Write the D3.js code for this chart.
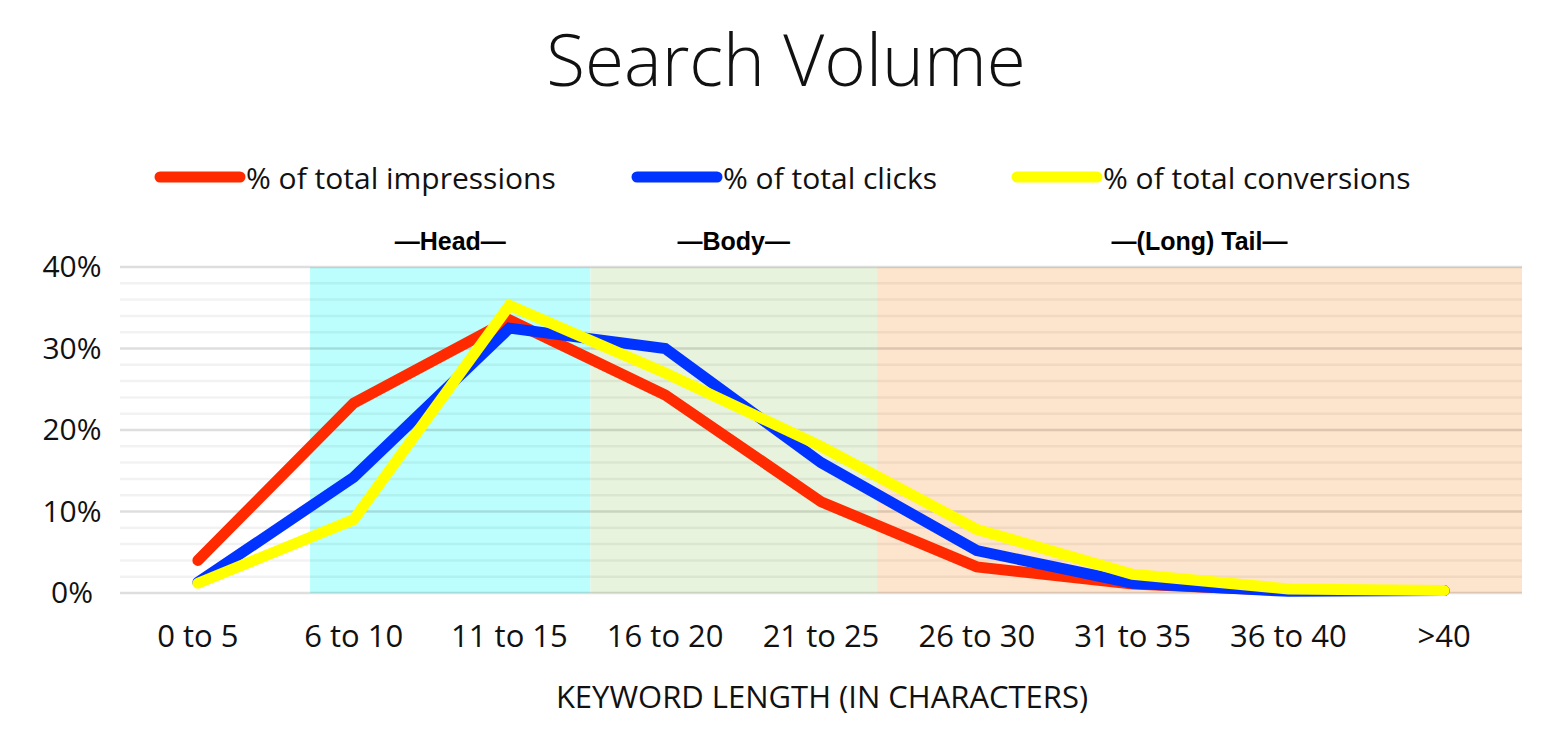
<!DOCTYPE html>
<html><head><meta charset="utf-8">
<script src="https://cdn.jsdelivr.net/npm/d3@7"></script>
<style>body{margin:0;background:#fff}</style></head>
<body><svg id="c" width="1556" height="750"></svg>
<script>
const categories=["0 to 5","6 to 10","11 to 15","16 to 20","21 to 25","26 to 30","31 to 35","36 to 40",">40"];
const impressions=[4.0,23.3,33.5,24.3,11.2,3.2,1.1,0.3,0.3];
const clicks=[1.3,14.2,32.5,30.0,16.0,5.2,1.2,0.2,0.3];
const conversions=[1.2,9.0,35.3,27.0,18.0,7.8,2.3,0.5,0.3];
const seriesNames=["% of total impressions","% of total clicks","% of total conversions"];
const seriesColors=["#ff2a00","#0033ff","#ffff00"];
const zoneNames=["—Head—","—Body—","—(Long) Tail—"];
const zoneStart=[1.22,3.02,4.86];
const zoneEnd=[3.02,4.86,9];
const zoneColors=["#bbfefd","#e7f3dc","#fde4cc"];
const yTicks=[0,10,20,30,40];

const svg=d3.select("#c");
const L=120,R=1522,T=267,B=593;
const x=d3.scaleBand().domain(categories).range([L,R]);
const u=d3.scaleLinear().domain([0,9]).range([L,R]);
const y=d3.scaleLinear().domain([0,40]).range([B,T]);
const font="'Open Sans', sans-serif";

svg.append("text").attr("x",786).attr("y",86).attr("text-anchor","middle")
 .attr("font-family",font).attr("font-size",71).attr("font-weight",300).attr("fill","#111").text("Search Volume");

svg.selectAll("rect.z").data(zoneNames).join("rect")
 .attr("x",(d,i)=>u(zoneStart[i])).attr("width",(d,i)=>u(zoneEnd[i])-u(zoneStart[i]))
 .attr("y",T).attr("height",B-T).attr("fill",(d,i)=>zoneColors[i]);
svg.selectAll("text.z").data(zoneNames).join("text")
 .attr("x",(d,i)=>(u(zoneStart[i])+u(zoneEnd[i]))/2).attr("y",250).attr("text-anchor","middle")
 .attr("font-family","'Liberation Sans', Arial").attr("font-weight","bold").attr("font-size",25).text(d=>d);

const minor=d3.range(0,41,2);
svg.selectAll("line.g").data(minor).join("line")
 .attr("x1",L).attr("x2",R).attr("y1",d=>y(d)).attr("y2",d=>y(d))
 .attr("stroke","#000").attr("stroke-opacity",d=>d%10===0?0.13:0.05)
 .attr("stroke-width",2.5);

const yAxis=svg.append("g").attr("transform",`translate(${L},0)`)
 .call(d3.axisLeft(y).tickValues(yTicks).tickFormat(d=>d+"%").tickSize(0).tickPadding(10));
yAxis.select(".domain").remove();
yAxis.selectAll("text").attr("font-family",font).attr("font-size",30).attr("fill","#111").attr("x",-48).attr("text-anchor","middle");

const xAxis=svg.append("g").attr("transform",`translate(0,${B})`)
 .call(d3.axisBottom(x).tickSize(0).tickPadding(32));
xAxis.select(".domain").remove();
xAxis.selectAll("text").attr("font-family",font).attr("font-size",31).attr("fill","#111");

svg.append("text").attr("x",822).attr("y",708).attr("text-anchor","middle")
 .attr("font-family",font).attr("font-size",31).attr("fill","#111").text("KEYWORD LENGTH (IN CHARACTERS)");

const line=d3.line().x((d,i)=>x(categories[i])+x.bandwidth()/2).y(d=>y(d));
[impressions,clicks,conversions].forEach((s,k)=>{
 svg.append("path").datum(s).attr("d",line).attr("fill","none")
  .attr("stroke",seriesColors[k]).attr("stroke-width",11).attr("stroke-linecap","round").attr("stroke-linejoin","miter");
});

const legX=[160,637,1017];
seriesNames.forEach((n,k)=>{
 svg.append("line").attr("x1",legX[k]).attr("x2",legX[k]+80).attr("y1",177).attr("y2",177)
  .attr("stroke",seriesColors[k]).attr("stroke-width",11).attr("stroke-linecap","round");
 svg.append("text").attr("x",legX[k]+86).attr("y",189).attr("font-family",font).attr("font-size",30).attr("fill","#111").text(n);
});
</script></body></html>
